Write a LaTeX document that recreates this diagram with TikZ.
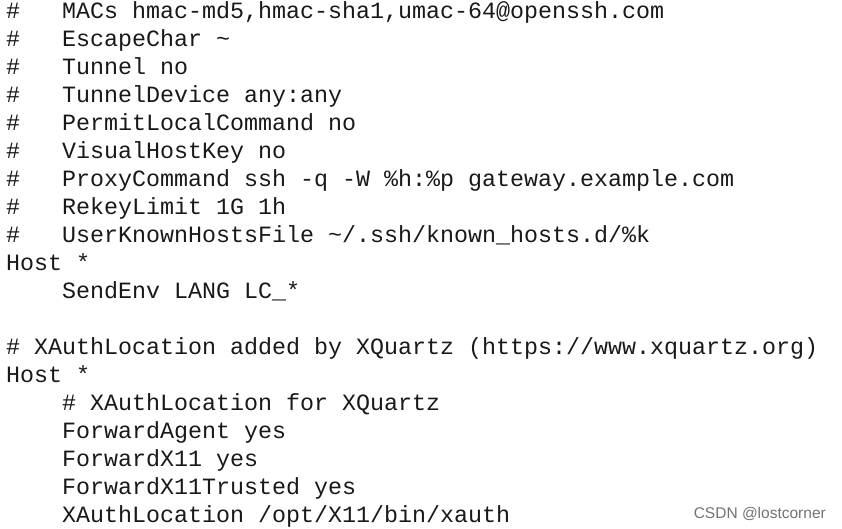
\documentclass[tikz,border=0pt]{standalone}
\usepackage{fontspec}
\newfontfamily\mono{Liberation Mono}
\setmainfont{Liberation Sans}
\begin{document}
\begin{tikzpicture}[x=1pt,y=1pt,
  ln/.style={anchor=base west,inner sep=0pt,font=\mono\fontsize{23.33}{24}\selectfont,text=black!90}]
\useasboundingbox (0,0) rectangle (842,-528);
\foreach \r in {0,...,8}{\node[ln] (h\r) at (6,{-(18+28*\r)}) {\#};}
\node[ln] (c0) at (62,-18) {MACs hmac-md5,hmac-sha1,umac-64@openssh.com};
\node[ln] (c1) at (62,-46) {EscapeChar \textasciitilde};
\node[ln] (c2) at (62,-74) {Tunnel no};
\node[ln] (c3) at (62,-102) {TunnelDevice any:any};
\node[ln] (c4) at (62,-130) {PermitLocalCommand no};
\node[ln] (c5) at (62,-158) {VisualHostKey no};
\node[ln] (c6) at (62,-186) {ProxyCommand ssh -q -W \%h:\%p gateway.example.com};
\node[ln] (c7) at (62,-214) {RekeyLimit 1G 1h};
\node[ln] (c8) at (62,-242) {UserKnownHostsFile \textasciitilde/.ssh/known\_hosts.d/\%k};
\node[ln] (host1) at (6,-270) {Host *};
\node[ln] (send) at (62,-298) {SendEnv LANG LC\_*};
\node[ln] (xcom) at (6,-354) {\# XAuthLocation added by XQuartz (https://www.xquartz.org)};
\node[ln] (host2) at (6,-382) {Host *};
\node[ln] (l14) at (62,-410) {\# XAuthLocation for XQuartz};
\node[ln] (l15) at (62,-438) {ForwardAgent yes};
\node[ln] (l16) at (62,-466) {ForwardX11 yes};
\node[ln] (l17) at (62,-494) {ForwardX11Trusted yes};
\node[ln] (l18) at (62,-522) {XAuthLocation /opt/X11/bin/xauth};
\node[anchor=base east,inner sep=0pt,font=\fontsize{15.5}{17}\selectfont,text=black!55] (wm) at (826,-518) {CSDN @lostcorner};
\end{tikzpicture}
\end{document}
